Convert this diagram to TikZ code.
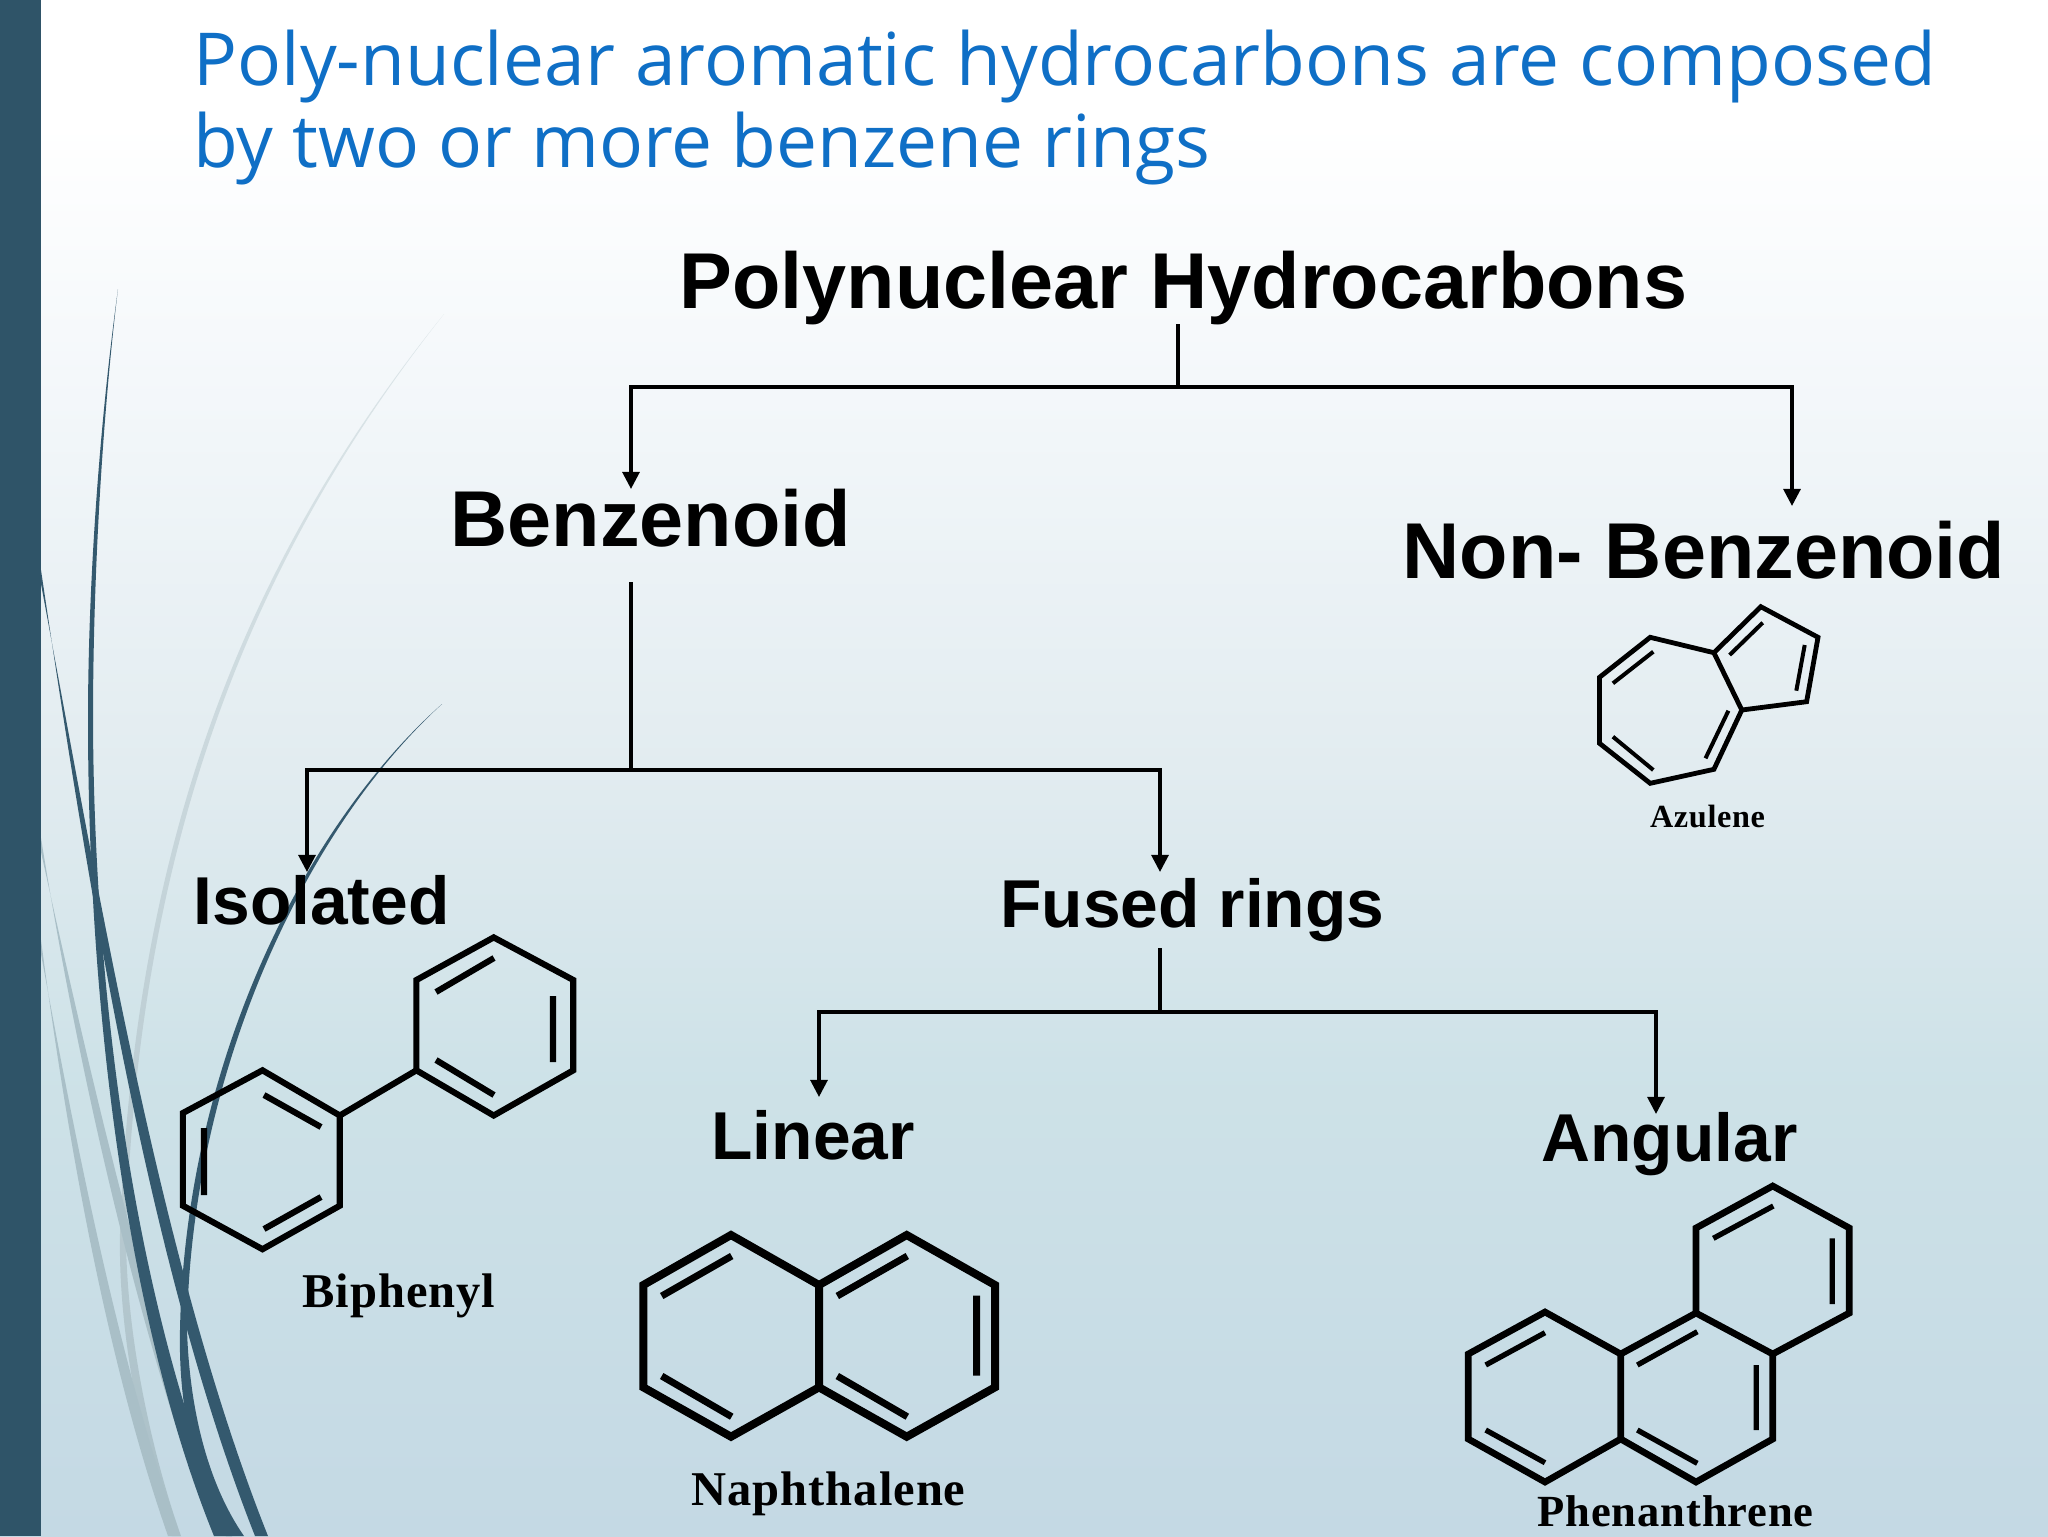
\documentclass[tikz,border=0pt]{standalone}
\usepackage{fontspec}
\usetikzlibrary{arrows.meta}
\setmainfont{Liberation Sans}
\newfontfamily\titlefont{Open Sans}
\newfontfamily\serifbold[LetterSpace=2]{Liberation Serif}
\definecolor{titleblue}{HTML}{0F6FC6}
\definecolor{barblue}{HTML}{2F5468}
\definecolor{swishdark}{HTML}{34596E}
\definecolor{swishlight}{HTML}{A9BFC7}
\definecolor{swishpale}{HTML}{DDE6E9}
\pgfdeclareverticalshading{bgshade}{100bp}{
  rgb(0bp)=(0.769,0.851,0.894);
  rgb(25bp)=(0.769,0.851,0.894);
  rgb(40bp)=(0.805,0.885,0.908);
  rgb(50bp)=(0.886,0.925,0.941);
  rgb(62bp)=(0.953,0.969,0.980);
  rgb(71bp)=(1,1,1);
  rgb(100bp)=(1,1,1)}
\tikzset{
  px/.style={x=0.375pt,y=-0.375pt},
  titletext/.style={anchor=base west,inner sep=0pt,text=titleblue,font=\titlefont\fontsize{27.4pt}{30pt}\selectfont},
  headbig/.style={anchor=base west,inner sep=0pt,font=\bfseries\fontsize{29.7pt}{34pt}\selectfont},
  headmid/.style={anchor=base west,inner sep=0pt,font=\bfseries\fontsize{25.4pt}{30pt}\selectfont},
  caption/.style={anchor=base west,inner sep=0pt,font=\serifbold\bfseries\fontsize{#1}{20pt}\selectfont},
  link/.style={line width=1.35pt},
  arrowlink/.style={link,-{Triangle[width=6.3pt,length=6.4pt]}},
  bondP/.style={line width=2.5pt,line join=miter},
  bondPi/.style={line width=2pt},
  bondN/.style={line width=3pt,line join=miter},
  bondNi/.style={line width=2.6pt},
  bondA/.style={line width=1.8pt,line join=miter},
  bondAi/.style={line width=1.5pt},
  bondB/.style={line width=2.3pt,line join=miter},
}
\begin{document}
\begin{tikzpicture}[px]
\useasboundingbox (0,0) rectangle (2048,1536);
\shade[shading=bgshade] (0,0) rectangle (2048,1536);
% swishes
\begin{scope}
\clip (0,0) rectangle (2048,1536);
% pale long curve
\shade[top color=swishpale,bottom color=swishlight]
  (444,314) .. controls (270,530) and (135,800) .. (120,1234) .. controls (118,1340) and (145,1460) .. (172,1536)
  -- (181,1536) .. controls (154,1460) and (126,1340) .. (126,1234) .. controls (139,808) and (272,532) .. (444,314) -- cycle;
% light curves
\fill[swishlight] (41,838) .. controls (80,1080) and (140,1340) .. (214,1536)
  -- (226,1536) .. controls (150,1335) and (90,1075) .. (41,852) -- cycle;
\fill[swishlight] (41,940) .. controls (70,1160) and (110,1370) .. (168,1536)
  -- (180,1536) .. controls (120,1365) and (78,1155) .. (41,954) -- cycle;
% dark curves
\fill[swishdark] (118,289) .. controls (100,420) and (88,580) .. (88,720) .. controls (88,1020) and (130,1330) .. (214,1536)
  -- (232,1536) .. controls (142,1330) and (94,1020) .. (93,720) .. controls (93,580) and (102,420) .. (118,289) -- cycle;
\fill[swishdark] (41,570) .. controls (90,900) and (150,1270) .. (255,1536)
  -- (268,1536) .. controls (162,1270) and (100,900) .. (41,584) -- cycle;
\fill[swishdark] (442,704) .. controls (300,830) and (185,1070) .. (180,1330) .. controls (178,1420) and (200,1490) .. (226,1536)
  -- (244,1536) .. controls (212,1490) and (190,1420) .. (187,1330) .. controls (190,1078) and (302,832) .. (442,704) -- cycle;
\end{scope}
% left bar
\fill[barblue] (0,0) rectangle (41,1536);
% title
\node[titletext] (t1) at (193,85) {\makebox[653.6pt][s]{Poly-nuclear aromatic hydrocarbons are composed}};
\node[titletext] (t2) at (193,167) {by two or more benzene rings};
% heads
\node[headbig] (poly) at (679,308) {Polynuclear Hydrocarbons};
\node[headbig] (benz) at (450,546) {Benzenoid};
\node[headbig] (nonb) at (1402,578) {Non- Benzenoid};
\node[headmid] (iso) at (193,924) {Isolated};
\node[headmid] (fused) at (1000,927) {Fused rings};
\node[headmid] (lin) at (711,1159) {Linear};
\node[headmid] (ang) at (1541,1161) {Angular};
% connector points
\coordinate (pstem) at (1178,324);
\coordinate (pj) at (1178,387);
\coordinate (pl) at (631,387);
\coordinate (pr) at (1792,387);
\coordinate (benztip) at (631,489);
\coordinate (nontip) at (1792,506);
\coordinate (bstem) at (631,582);
\coordinate (bj) at (631,770);
\coordinate (bl) at (307,770);
\coordinate (br) at (1160,770);
\coordinate (isotip) at (307,872);
\coordinate (fusedtip) at (1160,872);
\coordinate (fstem) at (1160,948);
\coordinate (fj) at (1160,1012);
\coordinate (fl) at (819,1012);
\coordinate (fr) at (1656,1012);
\coordinate (lintip) at (819,1097);
\coordinate (angtip) at (1656,1114);
\draw[link] (pstem) -- (pj);
\draw[link,line cap=rect] (pl) -- (pr);
\draw[arrowlink] (pl) -- (benztip);
\draw[arrowlink] (pr) -- (nontip);
\draw[link] (bstem) -- (bj);
\draw[link,line cap=rect] (bl) -- (br);
\draw[arrowlink] (bl) -- (isotip);
\draw[arrowlink] (br) -- (fusedtip);
\draw[link] (fstem) -- (fj);
\draw[link,line cap=rect] (fl) -- (fr);
\draw[arrowlink] (fl) -- (lintip);
\draw[arrowlink] (fr) -- (angtip);
% Biphenyl
\draw[bondB] (493.7,937.4) -- (416.4,980) -- (416.4,1070.3) -- (493.7,1115.5) -- (573.3,1070.3) -- (573.3,980) -- cycle;
\draw[bondB] (262.5,1070.3) -- (339.8,1115.5) -- (339.8,1205.7) -- (262.5,1249.2) -- (182.9,1205.7) -- (182.9,1113) -- cycle;
\draw[bondB] (339.8,1115.5) -- (416.4,1070.3);
\draw[bondB] (436,992) -- (494,958) (436,1060) -- (494,1095) (553,996) -- (553,1062);
\draw[bondB] (264,1095) -- (321,1127) (264,1229) -- (321,1197) (204,1128) -- (204,1195);
\node[caption=18.2pt] (biph) at (302,1307) {Biphenyl};
% Naphthalene
\draw[bondN] (731,1235) -- (643.3,1285) -- (643.3,1387.3) -- (731,1436.7) -- (819,1387.3) -- (819,1285) -- cycle;
\draw[bondN] (819,1285) -- (906.7,1235) -- (995,1285) -- (995,1387.3) -- (906.7,1436.7) -- (819,1387.3);
\draw[bondNi] (661.7,1296) -- (731.7,1256) (661.7,1376) -- (731.7,1416.7) (837.3,1296) -- (907.3,1256) (837.3,1376) -- (907.3,1416.7) (976.7,1295.7) -- (976.7,1375.7);
\node[caption=18.2pt] (naph) at (691,1505) {Naphthalene};
% Phenanthrene
\draw[bondP] (1772.7,1186) -- (1696,1228) -- (1696,1313) -- (1772.7,1354) -- (1849.3,1313) -- (1849.3,1228) -- cycle;
\draw[bondP] (1696,1313) -- (1620.7,1354) -- (1620.7,1439) -- (1696,1482) -- (1772.7,1439) -- (1772.7,1354);
\draw[bondP] (1620.7,1354) -- (1545,1312) -- (1468.3,1354) -- (1468.3,1439) -- (1545,1482) -- (1620.7,1439);
\draw[bondPi] (1713.3,1238.3) -- (1773.3,1206) (1832.3,1238.3) -- (1832.3,1304) (1637.3,1365) -- (1697.3,1331.7) (1756.3,1365) -- (1756.3,1430) (1637.3,1430) -- (1697.3,1463.3) (1485.7,1365) -- (1545,1332.7) (1485.7,1430) -- (1545,1462.7);
\node[caption=16.7pt] (phen) at (1537,1526) {Phenanthrene};
% Azulene
\draw[bondA] (1650.2,637.3) -- (1599.5,677.3) -- (1599.5,743.3) -- (1650.2,783.3) -- (1713.9,769.3) -- (1741.8,710) -- (1713.9,652.7) -- cycle;
\draw[bondA] (1713.9,652.7) -- (1760.8,606.7) -- (1818,637.3) -- (1806.6,701.7) -- (1741.8,710);
\draw[bondAi] (1612.9,683.3) -- (1653.3,651.7) (1612.9,736.7) -- (1653.3,770) (1705.5,758.3) -- (1728.4,710.7) (1729.6,655) -- (1762.7,622.7) (1796.3,690.7) -- (1804.7,645);
\node[caption=12.1pt] (azul) at (1649.5,827) {Azulene};
\end{tikzpicture}
\end{document}
